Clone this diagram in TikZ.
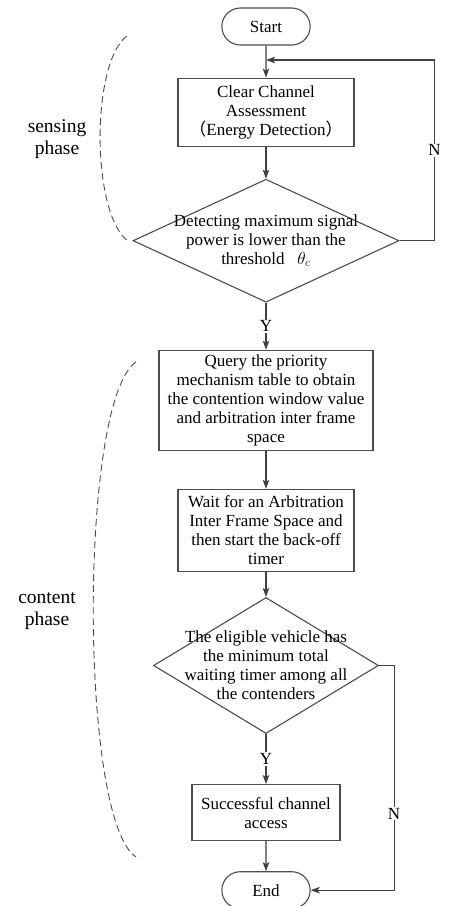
\documentclass[tikz,border=0pt]{standalone}
\usepackage{fontspec}
\setmainfont{Liberation Serif}
\newfontfamily\cjk{Noto Sans CJK SC}
\usetikzlibrary{arrows.meta,positioning,shapes.misc,shapes.geometric}
\tikzset{
    %Define standard arrow tip
    >={Stealth[length=9pt,width=6.5pt,inset=2pt]},
    %Define style for process boxes
    blokk/.style={
           rectangle,
           draw=black!70, line width=1.1pt,
           align=center,
           font=\fontsize{17}{19}\selectfont,
           inner sep=2pt},
    %Define style for start and end
    terminal/.style={
           rounded rectangle,
           draw=black!70, line width=1.1pt,
           minimum width=95pt,
           minimum height=37pt,
           font=\fontsize{17}{19}\selectfont},
    %Define style for decisions
    vurder/.style={
           diamond,
           draw=black!70, line width=1.1pt,
           inner sep=0pt},
    vtekst/.style={
           align=center,
           font=\fontsize{17}{19}\selectfont},
    % Define arrow style
    pil/.style={
           ->,
           draw=black!75,
           line width=1.1pt},
    % Define style for Y and N
    svar/.style={
           fill=white,
           inner sep=1pt,
           font=\fontsize{17}{19}\selectfont},
    fase/.style={
           align=center,
           font=\fontsize{19.5}{22}\selectfont},
    klamme/.style={
           dash pattern=on 7pt off 4pt,
           draw=black!70,
           line width=0.9pt}
}
\begin{document}
\begin{tikzpicture}[x=1pt, y=1pt]
 \useasboundingbox (0,0) rectangle (474,-906);
 %nodes
 \node[terminal] (start) at (266,-26.5) {Start};
 \node[blokk, minimum width=176pt, minimum height=68pt, below=32pt of start]
 (cca) {Clear Channel\\Assessment\\{\cjk （}Energy Detection{\cjk ）}};
 \node[vurder, minimum width=266pt, minimum height=123pt, below=32pt of cca,
   label={[vtekst]center:Detecting maximum signal\\power is lower than the\\threshold\ \ \ $\theta_c$}]
 (sense) {};
 \node[blokk, minimum width=214pt, minimum height=100pt, below=47pt of sense]
 (query) {Query the priority\\mechanism table to obtain\\the contention window value\\and arbitration inter frame\\space};
 \node[blokk, minimum width=176pt, minimum height=82pt, below=38pt of query]
 (wait) {Wait for an Arbitration\\Inter Frame Space and\\then start the back-off\\timer};
 \node[vurder, minimum width=225pt, minimum height=136pt, below=25pt of wait,
   label={[vtekst]center:The eligible vehicle has\\the minimum total\\waiting timer among all\\the contenders}]
 (elig) {};
 \node[blokk, minimum width=148pt, minimum height=56pt, below=50pt of elig]
 (success) {Successful channel\\access};
 \node[terminal, below=30pt of success] (end) {End};
 % phase labels on the left
 \node[fase] (sensing) at (57,-139) {sensing\\phase};
 \node[fase] (content) at (47,-611) {content\\phase};
 % loop join point above the first box
 \coordinate (join) at (266,-60);

 %connectors
 \draw[pil] (start) -- (cca);
 \draw[pil] (cca) -- (sense);
 \draw[pil] (sense.east) -- ++(35pt,0) |- (join) node[svar, pos=0.25] {N};
 \draw[pil] (sense) -- node[svar] {Y} (query);
 \draw[pil] (query) -- (wait);
 \draw[pil] (wait) -- (elig);
 \draw[pil] (elig) -- node[svar] {Y} (success);
 \draw[pil] (success) -- (end);
 \draw[pil] (elig.east) -- ++(15pt,0) |- (end.east) node[svar, pos=0.33] {N};

 % dashed brackets of the two phases
 \draw[klamme] (127,-36) .. controls (91,-62) and (91,-214) .. (128,-241);
 \draw[klamme] (136,-362) .. controls (79,-400) and (79,-820) .. (136,-857);
\end{tikzpicture}
\end{document}
